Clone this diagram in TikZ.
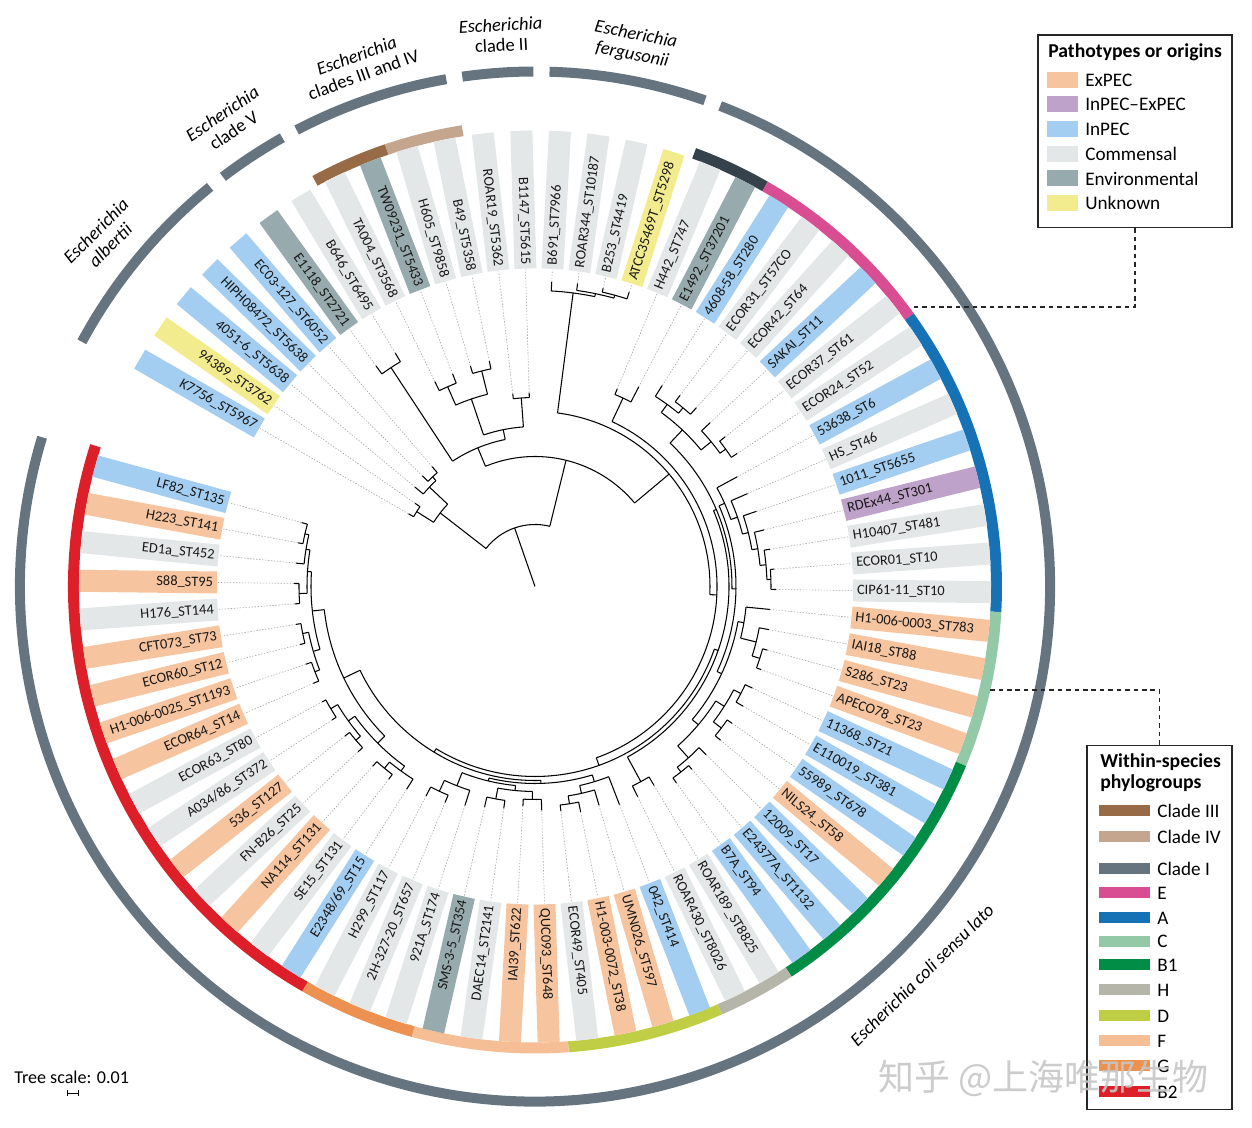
\documentclass[tikz,border=0pt]{standalone}
\usepackage{fontspec}
\setmainfont{Carlito}
\newfontfamily\cjk{Noto Sans CJK SC}
\usetikzlibrary{positioning}

\definecolor{expec}{HTML}{F6C49E}
\definecolor{inexpec}{HTML}{BFA2C9}
\definecolor{inpec}{HTML}{A3CEF1}
\definecolor{commensal}{HTML}{E3E7E8}
\definecolor{environ}{HTML}{97ABAE}
\definecolor{unknown}{HTML}{F3EC8E}
\definecolor{cladeIII}{HTML}{976B45}
\definecolor{cladeIV}{HTML}{C4A68E}
\definecolor{slate}{HTML}{66747F}
\definecolor{cladeIdark}{HTML}{36424B}
\definecolor{grpE}{HTML}{D94D92}
\definecolor{grpA}{HTML}{1671B5}
\definecolor{grpC}{HTML}{93C9A6}
\definecolor{grpB1}{HTML}{028D47}
\definecolor{grpH}{HTML}{B5B5AA}
\definecolor{grpD}{HTML}{BFCE45}
\definecolor{grpF}{HTML}{F6BE94}
\definecolor{grpG}{HTML}{EC914F}
\definecolor{grpB2}{HTML}{DC1F29}

% inner node: first child : last child : radius : parent radius (child positions in leaf slots)
\def\clade(#1:#2:#3:#4){%
  \pgfmathsetmacro\aA{150.1-(#1-1)*4.865}%
  \pgfmathsetmacro\aB{150.1-(#2-1)*4.865}%
  \pgfmathsetmacro\aM{(\aA+\aB)/2}%
  \draw[branch] (\aA:#3) arc[start angle=\aA, end angle=\aB, radius=#3];%
  \draw[branch] (\aM:#4) -- (\aM:#3);}
% leaf: slot : tip radius : parent radius, bar colour, label
\def\leaf(#1:#2:#3)[#4]#5{%
  \pgfmathsetmacro\la{150.1-(#1-1)*4.865}%
  \fill[#4, rotate=\la] (318,-11) rectangle (456,11);%
  \draw[branch] (\la:#3) -- (\la:#2);%
  \draw[leader] (\la:#2) -- (\la:317);%
  \pgfmathtruncatemacro\lside{abs(\la)>90}%
  \ifnum\lside=1
    \node[leaflabel, anchor=east, rotate=\la+180] (lf#1) at (\la:320) {#5};%
  \else
    \node[leaflabel, anchor=west, rotate=\la] (lf#1) at (\la:320) {#5};%
  \fi}
% phylogroup ring from slot to slot
\def\phylo(#1:#2)[#3]{%
  \pgfmathsetmacro\aA{150.1-(#1-1)*4.865+2.4325}%
  \pgfmathsetmacro\aB{150.1-(#2-1)*4.865-2.4325}%
  \draw[#3, line width=0.22cm] (\aA:461.5) arc[start angle=\aA, end angle=\aB, radius=461.5];}
% species ring from slot to slot
\def\species(#1:#2){%
  \pgfmathsetmacro\aA{150.1-(#1-1)*4.865+1.53}%
  \pgfmathsetmacro\aB{150.1-(#2-1)*4.865-1.53}%
  \draw[slate, line width=0.2cm] (\aA:515) arc[start angle=\aA, end angle=\aB, radius=515];}

\begin{document}
\begin{tikzpicture}[x=0.02cm, y=0.02cm,
    branch/.style={line width=0.6pt, black},
    leader/.style={gray!70, line width=0.35pt, dash pattern=on 0.8pt off 0.9pt},
    leaflabel/.style={font=\fontsize{8.2}{9}\selectfont, inner sep=1pt, text=black!90},
    cladelabel/.style={font=\fontsize{10.5}{11.5}\selectfont, align=center, inner sep=0pt},
    legbox/.style={draw=black!85, line width=0.6pt},
    legtext/.style={font=\fontsize{10.9}{12}\selectfont, anchor=west, inner sep=0pt},
    legtitle/.style={font=\bfseries\fontsize{11.2}{12}\selectfont, anchor=west, inner sep=0pt},
    link/.style={black!85, line width=0.6pt, dash pattern=on 2.6pt off 2.2pt}]
\useasboundingbox (-535,-541.5) rectangle (717,586.5);

%%%%% RINGS %%%%%
\species(1:5) \species(6:7) \species(8:11) \species(12:13) \species(14:17) \species(18:72)

\phylo(8:9)[cladeIII]
\phylo(10:11)[cladeIV]
\phylo(18:19)[cladeIdark]
\phylo(20:24)[grpE]
\phylo(25:32)[grpA]
\phylo(33:36)[grpC]
\phylo(37:43)[grpB1]
\phylo(44:45)[grpH]
\phylo(46:49)[grpD]
\phylo(50:53)[grpF]
\phylo(54:56)[grpG]
\phylo(57:72)[grpB2]

%%%%% TREE %%%%%
\clade(2.625:16.2:62:0)
\clade(1.5:3.75:120:62)
\clade(1:2:140:120)
\clade(3:4.5:145:120)
\clade(4:5:150:145)
\clade(8.75:23.64:130:62)
\clade(6.5:11:150:130)
\clade(6:7:262:150)
\clade(9.5:12.5:160:150)
\clade(8.5:10.5:198:160)
\clade(8:9:218:198)
\clade(10:11:222:198)
\clade(12:13:189:160)
\clade(14.875:32.4:175:130)
\clade(14:15.75:296:175)
\clade(15:16.5:299:296)
\clade(16:17:302:299)
\clade(18.5:46.3:182:175)
\clade(18:19:208:182)
\clade(35.81:56.8:190:182)
\clade(27.12:44.5:194:190)
\clade(22.25:31.99:197:194)
\clade(20.75:23.75:215:197)
\clade(20:21.5:225:215)
\clade(21:22:232:225)
\clade(23:24.5:228:215)
\clade(24:25:235:228)
\clade(26.98:37:201:197)
\clade(26:27.97:207:201)
\clade(27:28.94:214:207)
\clade(28:29.875:220:214)
\clade(29:30.75:226:220)
\clade(30:31.5:232:226)
\clade(31:32:236:232)
\clade(33.875:40.125:206:201)
\clade(33:34.75:212:206)
\clade(34:35.5:228:212)
\clade(35:36:236:228)
\clade(38.5:41.75:214:206)
\clade(37.5:39.5:224:214)
\clade(37:38:232:224)
\clade(39:40:234:224)
\clade(41:42.5:230:214)
\clade(42:43:236:230)
\clade(44:45:222:194)
\clade(50:63.59:194:190)
\clade(46.875:53.125:197:194)
\clade(46:47.75:204:197)
\clade(47:48.5:212:204)
\clade(48:49:220:212)
\clade(51.5:54.75:200:197)
\clade(50.5:52.5:205:200)
\clade(50:51:213:205)
\clade(52:53:216:205)
\clade(54:55.5:214:200)
\clade(55:56:226:214)
\clade(59.625:67.56:212:194)
\clade(57.75:61.5:222:212)
\clade(57:58.5:228:222)
\clade(58:59:236:228)
\clade(60.5:62.5:230:222)
\clade(60:61:236:230)
\clade(62:63:238:230)
\clade(65.5:69.625:224:212)
\clade(64.5:66.5:231:224)
\clade(64:65:236:231)
\clade(66:67:237:231)
\clade(68.5:70.75:228:224)
\clade(68:69:236:228)
\clade(70:71.5:232:228)
\clade(71:72:236:232)

%%%%% LEAVES %%%%%
\leaf(1:146:140)[inpec]{K7756\_ST5967}
\leaf(2:146:140)[unknown]{94389\_ST3762}
\leaf(3:156:145)[inpec]{4051-6\_ST5638}
\leaf(4:158:150)[inpec]{HIPH08472\_ST5638}
\leaf(5:158:150)[inpec]{EC03-127\_ST6052}
\leaf(6:272:262)[environ]{E1118\_ST2721}
\leaf(7:272:262)[commensal]{B646\_ST6495}
\leaf(8:228:218)[commensal]{TA004\_ST3568}
\leaf(9:228:218)[environ]{TW09231\_ST5433}
\leaf(10:230:222)[commensal]{H605\_ST9858}
\leaf(11:230:222)[commensal]{B49\_ST5358}
\leaf(12:194:189)[commensal]{ROAR19\_ST5362}
\leaf(13:194:189)[commensal]{B1147\_ST5615}
\leaf(14:305:296)[commensal]{B691\_ST7966}
\leaf(15:306:299)[commensal]{ROAR344\_ST10187}
\leaf(16:306:302)[commensal]{B253\_ST4419}
\leaf(17:309:302)[unknown]{ATCC35469T\_ST5298}
\leaf(18:214:208)[commensal]{H442\_ST747}
\leaf(19:225:208)[environ]{E1492\_ST37201}
\leaf(20:238:225)[inpec]{4608-58\_ST280}
\leaf(21:240:232)[commensal]{ECOR31\_ST57CO}
\leaf(22:241:232)[commensal]{ECOR42\_ST64}
\leaf(23:240:228)[inpec]{SAKAI\_ST11}
\leaf(24:242:235)[commensal]{ECOR37\_ST61}
\leaf(25:242:235)[commensal]{ECOR24\_ST52}
\leaf(26:230:207)[inpec]{53638\_ST6}
\leaf(27:232:214)[commensal]{HS\_ST46}
\leaf(28:234:220)[inpec]{1011\_ST5655}
\leaf(29:236:226)[inexpec]{RDEx44\_ST301}
\leaf(30:238:232)[commensal]{H10407\_ST481}
\leaf(31:240:236)[commensal]{ECOR01\_ST10}
\leaf(32:241:236)[commensal]{CIP61-11\_ST10}
\leaf(33:236:212)[expec]{H1-006-0003\_ST783}
\leaf(34:238:228)[expec]{IAI18\_ST88}
\leaf(35:241:236)[expec]{S286\_ST23}
\leaf(36:241:236)[expec]{APECO78\_ST23}
\leaf(37:240:232)[inpec]{11368\_ST21}
\leaf(38:240:232)[inpec]{E110019\_ST381}
\leaf(39:240:234)[inpec]{55989\_ST678}
\leaf(40:241:234)[expec]{NILS24\_ST58}
\leaf(41:240:230)[inpec]{12009\_ST17}
\leaf(42:241:236)[inpec]{E24377A\_ST1132}
\leaf(43:242:236)[inpec]{B7A\_ST94}
\leaf(44:232:222)[commensal]{ROAR189\_ST8825}
\leaf(45:234:222)[commensal]{ROAR430\_ST8026}
\leaf(46:234:204)[inpec]{042\_ST414}
\leaf(47:228:212)[expec]{UMN026\_ST597}
\leaf(48:230:220)[expec]{H1-003-0072\_ST38}
\leaf(49:226:220)[commensal]{ECOR49\_ST405}
\leaf(50:224:213)[expec]{QUC093\_ST648}
\leaf(51:220:213)[expec]{IAI39\_ST622}
\leaf(52:224:216)[commensal]{DAEC14\_ST2141}
\leaf(53:226:216)[environ]{SMS-3-5\_ST354}
\leaf(54:230:214)[commensal]{921A\_ST174}
\leaf(55:234:226)[commensal]{2H-327-20\_ST657}
\leaf(56:236:226)[commensal]{H299\_ST117}
\leaf(57:240:228)[inpec]{E2348/69\_ST15}
\leaf(58:242:236)[commensal]{SE15\_ST131}
\leaf(59:242:236)[expec]{NA114\_ST131}
\leaf(60:242:236)[commensal]{FN-B26\_ST25}
\leaf(61:242:236)[expec]{536\_ST127}
\leaf(62:243:238)[commensal]{A034/86\_ST372}
\leaf(63:242:238)[commensal]{ECOR63\_ST80}
\leaf(64:242:236)[expec]{ECOR64\_ST14}
\leaf(65:242:236)[expec]{H1-006-0025\_ST1193}
\leaf(66:242:237)[expec]{ECOR60\_ST12}
\leaf(67:242:237)[expec]{CFT073\_ST73}
\leaf(68:241:236)[commensal]{H176\_ST144}
\leaf(69:241:236)[expec]{S88\_ST95}
\leaf(70:240:232)[commensal]{ED1a\_ST452}
\leaf(71:241:236)[expec]{H223\_ST141}
\leaf(72:242:236)[inpec]{LF82\_ST135}

%%%%% CLADE NAMES %%%%%
\node[cladelabel, rotate=45] (alb) at (-432,348.5) {\textit{Escherichia}\\\textit{albertii}};
\node[cladelabel, rotate=34] (cladeV) at (-307,464.5) {\textit{Escherichia}\\clade V};
\node[cladelabel, rotate=20] (cladeIIIIV) at (-175,521.5) {\textit{Escherichia}\\clades III and IV};
\node[cladelabel, rotate=3] (cladeII) at (-34,551.5) {\textit{Escherichia}\\clade II};
\node[cladelabel, rotate=-11] (ferg) at (99,541.5) {\textit{Escherichia}\\\textit{fergusonii}};
\node[cladelabel, rotate=44.5] (ecoli) at (387,-388.5) {\textit{Escherichia coli sensu lato}};

%%%%% LEGENDS %%%%%
\node[legbox, minimum width=3.88cm, minimum height=3.86cm] (leg1) at (600,455) {};
\node[legtitle] (leg1title) at (513,534.5) {Pathotypes or origins};
\foreach \yy/\col/\txt in {506.5/expec/ExPEC, 482/inexpec/InPEC–ExPEC, 457.5/inpec/InPEC,
    432.5/commensal/Commensal, 408/environ/Environmental, 383.5/unknown/Unknown}{
  \fill[\col] (512,\yy-8) rectangle (543,\yy+8);
  \node[legtext] (p-\col) at (550,\yy) {\txt};
}

\node[legbox, minimum width=2.9cm, minimum height=7.3cm] (leg2) at (624.5,-341) {};
\node[legtitle] (leg2title) at (565,-175.5) {Within-species};
\node[legtitle] (leg2title2) at (565,-196.5) {phylogroups};
\foreach \yy/\col/\txt in {-224.5/cladeIII/Clade III, -250.5/cladeIV/Clade IV, -282.5/slate/Clade I,
    -306.5/grpE/E, -331.5/grpA/A, -355/grpC/C, -378.5/grpB1/B1, -403.5/grpH/H,
    -429.5/grpD/D, -454.5/grpF/F, -479.5/grpG/G, -505.5/grpB2/B2}{
  \fill[\col] (564,\yy-5.5) rectangle (615,\yy+5.5);
  \node[legtext] (q-\col) at (622,\yy) {\txt};
}

\coordinate (pin1) at (377,279.5);
\coordinate (pin2) at (453,-103.5);
\draw[link] (leg1.south) |- (pin1);
\draw[link] (leg2.north) |- (pin2);

%%%%% SCALE AND MARK %%%%%
\node[anchor=west, font=\fontsize{10.3}{12}\selectfont, inner sep=0pt] (tscale) at (-521,-490.5) {Tree scale: 0.01};
\draw[line width=0.5pt] (-468,-506.5) -- (-457,-506.5);
\draw[line width=0.5pt] (-468,-509.5) -- (-468,-503.5);
\draw[line width=0.5pt] (-457,-509.5) -- (-457,-503.5);

\node[anchor=west, font=\cjk\fontsize{20.5}{22}\selectfont, text=gray!45, text opacity=0.9, inner sep=0pt] (wm) at (343,-491.5) {知乎\ @上海唯那生物};

\end{tikzpicture}
\end{document}
